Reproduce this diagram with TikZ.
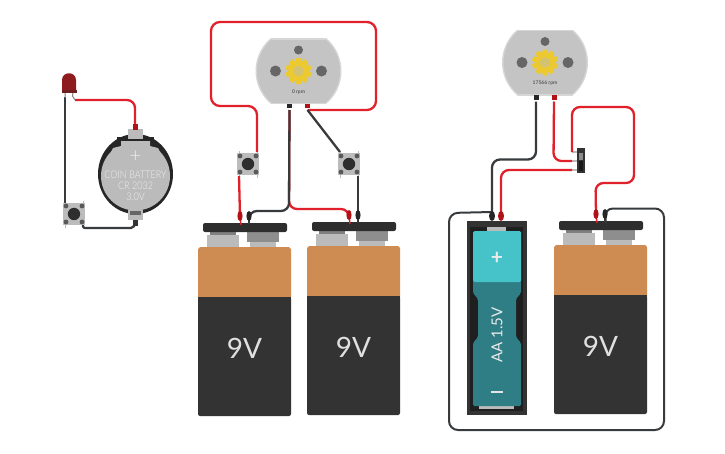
\documentclass[tikz,border=0pt]{standalone}
\usepackage{fontspec}
\setmainfont{Lato}[UprightFont=* Light,BoldFont=* Bold]
\newfontfamily\coinf{Lato}[UprightFont=* Light,FakeStretch=0.86]
\newfontfamily\regf{Lato}
\usetikzlibrary{calc}
\definecolor{wred}{HTML}{E0212B}
\definecolor{wblk}{HTML}{383B3D}
\definecolor{beadr}{HTML}{B01218}
\definecolor{orng}{HTML}{CF8C52}
\definecolor{drk}{HTML}{333333}
\definecolor{plate}{HTML}{2E2E2E}
\definecolor{lgrey}{HTML}{BBBBBB}
\definecolor{mgrey}{HTML}{8E8E8E}
\definecolor{motor}{HTML}{C4C4C4}
\definecolor{hole}{HTML}{666666}
\definecolor{gear}{HTML}{EBC92F}
\definecolor{gearin}{HTML}{D3C272}
\definecolor{tealA}{HTML}{46C3C8}
\definecolor{tealB}{HTML}{2F7E85}
\definecolor{btn}{HTML}{BCBCBC}
\definecolor{ledc}{HTML}{8E1B1E}
\definecolor{ledd}{HTML}{6E2020}
\tikzset{
  x=1pt,y=-1pt,
  redwire/.style={draw=wred,line width=2.3pt,rounded corners=8pt},
  blkwire/.style={draw=wblk,line width=2.3pt,rounded corners=8pt},
  label9/.style={text=white!88!black,font=\regf\fontsize{28}{28}\selectfont,inner sep=0pt},
  rpm/.style={text=black!65,font=\fontsize{5}{5}\selectfont\bfseries,inner sep=0pt},
  coin/.style={text=white!94!black,font=\coinf\fontsize{10.5}{11}\selectfont,inner sep=0pt,align=center},
  ninev/.pic={
    \fill[orng] (0,6) -- (0,2) -- (2,0) -- (91,0) -- (93,2) -- (93,51) -- (0,51) -- cycle;
    \fill[drk,rounded corners=2pt] (0,50) rectangle (93,169);
    \fill[drk] (0,50) rectangle (93,60);
    \fill[mgrey!90!black] (12,-15) rectangle (38,-12);
    \fill[lgrey] (9,-12) rectangle (41,0);
    \fill[mgrey] (49,-15) rectangle (81,-5);
    \fill[lgrey] (52,-5) rectangle (78,0);
    \fill[plate,rounded corners=2pt] (5,-24) rectangle (89,-15);
    \node[label9] (-txt) at (46.5,101) {9V};
    \coordinate (-r) at (42,-31);
    \coordinate (-b) at (51,-31);
  },
  button/.pic={
    \foreach \px/\py in {-9/-11,9/-11,-9/11,9/11} \draw[lgrey,line width=1pt] (\px,\py) -- ++(0,2.5) (\px,\py) -- ++(0,-2);
    \fill[btn] (-11,-11) rectangle (11,11);
    \foreach \px/\py in {-8/-8,8/-8,-8/8,8/8} \fill[black!65] (\px,\py) circle[radius=2.4pt];
    \fill[black!82] (0,0) circle[radius=6.2pt];
    \coordinate (-tl) at (-9,-12);
    \coordinate (-tr) at (9,-12);
    \coordinate (-bl) at (-9,12);
    \coordinate (-br) at (9,12);
  },
  motorpic/.pic={
    \begin{scope}
      \clip (-50,-32.5) rectangle (50,32.5);
      \fill[motor!70!white] (0,0) circle[radius=43pt];
    \end{scope}
    \begin{scope}
      \clip (-50,-31) rectangle (50,31);
      \fill[motor] (0,0) circle[radius=41.5pt];
    \end{scope}
    \fill[hole] (0,-21) circle[radius=4.5pt];
    \fill[hole] (-23,0) circle[radius=5.5pt];
    \fill[hole] (23,0) circle[radius=5.5pt];
    \foreach \a in {0,36,...,324} \fill[gear,rotate=\a] (-2.2,-13) -- (2.2,-13) -- (3.2,-8) -- (-3.2,-8) -- cycle;
    \fill[gear] (0,0) circle[radius=9.5pt];
    \fill[gearin] (0,0) circle[radius=5.3pt];
    \coordinate (-b) at (-9,39);
    \coordinate (-r) at (9,39);
    \fill[black!85] (-11.5,32.5) rectangle (-6.5,37);
    \fill[beadr] (6.5,32.5) rectangle (11.5,37);
  }
}
\begin{document}
\begin{tikzpicture}
\useasboundingbox (0,0) rectangle (725,453);
% ---------- coin battery group
\fill[black!85] (135.5,174) ellipse[x radius=37.5pt,y radius=40pt];
\fill[lgrey] (135.5,176) circle[radius=34.5pt];
\fill[black!85] (117,137) rectangle (154,147);
\fill[lgrey] (107,160) -- (113,148) -- (121,146) -- (121,141) -- (150,141) -- (150,146) -- (158,148) -- (164,160) -- cycle;
\fill[lgrey] (128,129) rectangle (143,139);
\fill[lgrey] (128,210) rectangle (143,220);
\fill[black!60] (130,211) rectangle (141,215);
\coordinate (coinT) at (135,126);
\coordinate (coinB) at (135,224);
\node[coin] (cointxt) at (135.5,186) {COIN BATTERY\\CR 2032\\3.0V};
\node[text=white!94!black,font=\fontsize{20}{20}\selectfont,inner sep=0pt] (coinplus) at (135.5,157) {+};
% LED
\coordinate (ledC) at (65,97);
\coordinate (ledA) at (75,100);
\pic (sw0) at (74,214) {button};
\draw[wblk,line width=2.3pt] (ledC) -- (65,203);
\draw[redwire] (ledA) -- (135,100) -- (coinT);
\draw[blkwire,rounded corners=2pt] (83,225) -- (83,228) -- (133,228) -- (coinB);
\fill[black!80] (133,220) rectangle (137.5,226);
\fill[beadr] (133,124) rectangle (137.5,130);
\draw[lgrey!70!black,line width=1pt] (73,92) -- (72.5,96) -- (75,100) (65,92) -- (65,98);
\fill[ledc] (62,90) -- (62,80) .. controls (62,71) and (76,71) .. (76,80) -- (76,90) -- cycle;
\fill[ledd] (61.5,90) rectangle (76.5,93);
% ---------- two 9V with motor
\pic (b1) at (198,247) {ninev};
\pic (b2) at (307,246) {ninev};
\pic (m1) at (298.5,71) {motorpic};
\node[rpm] (m1t) at (298.5,92) {0 rpm};
\pic (s1) at (248,164) {button};
\pic (s2) at (349,164) {button};
% red wires
\draw[redwire,rounded corners=9pt] (m1-r) -- (376,110) -- (376,22) -- (211,22) -- (211,106) -- (257,106) -- (s1-tr);
\draw[redwire,rounded corners=2pt] (s1-bl) -- (b1-r);
\draw[redwire] (m1-b) -- (289,209) -- (b2-r |- 0,209) -- (b2-r);
\draw[redwire,line width=1.4pt] (b1-r) -- ++(1,9);
\draw[redwire,line width=1.4pt] (b2-r) -- ++(1,9);
% black wires
\draw[blkwire] (m1-r) -- (s2-tl);
\draw[blkwire,rounded corners=2pt] (s2-br) -- (b2-b);
\draw[blkwire] (m1-b) -- (289,211) -- (b1-b |- 0,211) -- (b1-b);
\draw[blkwire,line width=1.4pt] (b1-b) -- ++(0,8);
\draw[blkwire,line width=1.4pt] (b2-b) -- ++(0,8);
\foreach \c in {b1,b2}{
  \fill[beadr] ($(\c-r)+(0,0)$) ellipse[x radius=2.6pt,y radius=5pt];
  \fill[black!85] ($(\c-b)+(0,0)$) ellipse[x radius=2.6pt,y radius=5pt];
}
% ---------- right group
\pic (m2) at (545,62.5) {motorpic};
\node[rpm] (m2t) at (545,83.5) {17566 rpm};
\pic (b3) at (554,245) {ninev};
% AA holder
\fill[drk] (467,221) rectangle (527,415);
\fill[black!88] (470,227) rectangle (523,411);
\fill[lgrey] (487,227) rectangle (506,232);
\fill[lgrey] (479,405) rectangle (514,409);
\fill[tealB,rounded corners=1.5pt] (473,240) -- (473,293) -- (478,299) -- (478,337) -- (473,343) -- (473,406) -- (521,406) -- (521,343) -- (516,337) -- (516,299) -- (521,293) -- (521,240) -- cycle;
\fill[tealA,rounded corners=1.5pt] (473,282) -- (473,231) -- (521,231) -- (521,282) -- cycle;
\node[text=white!92!black,font=\fontsize{21}{21}\selectfont\bfseries,inner sep=0pt] (aaplus) at (497,258) {+};
\fill[white!90!black] (491,390.5) rectangle (503,393);
\node[text=white!92!black,font=\regf\fontsize{15}{15}\selectfont,inner sep=0pt,rotate=90] (aatxt) at (497,335) {AA 1.5V};
\coordinate (aaB) at (492,212);
\coordinate (aaR) at (501,212);
% switch
\fill[drk] (577,148) rectangle (585,173);
\fill[black!90] (579,161) rectangle (583,171);
\fill[black!45] (579,153) rectangle (583,160);
\coordinate (swA) at (572,152);
\coordinate (swB) at (572,161);
\coordinate (swC) at (572,170);
\draw[lgrey,line width=1.2pt] (swA) -- (577,152) (swB) -- (577,161) (swC) -- (577,170);
% wires
\draw[blkwire] (m2-b) -- (536,159.5) -- (492,159.5) -- (aaB);
\draw[redwire] (aaR) -- (501,170) -- (swC);
\draw[redwire] (m2-r) -- (553.5,161) -- (swB);
\draw[redwire] (swA) -- (572,107) -- (634,107) -- (634,183) -- (595.5,183) -- (b3-r);
\draw[blkwire,line width=2pt,rounded corners=9pt] (b3-b) -- (604,208.5) -- (664,208.5) -- (664,430) -- (449,430) -- (449,213) -- (aaB);
\draw[redwire,line width=1.4pt] (b3-r) -- ++(1,9);
\draw[blkwire,line width=1.4pt] (b3-b) -- ++(0,8);
\fill[beadr] (b3-r) ellipse[x radius=2.6pt,y radius=5pt];
\fill[black!85] (b3-b) ellipse[x radius=2.6pt,y radius=5pt];
\fill[black!85] ($(aaB)+(0,4)$) ellipse[x radius=3pt,y radius=5pt];
\fill[beadr] ($(aaR)+(0,4)$) ellipse[x radius=3pt,y radius=5pt];
\end{tikzpicture}
\end{document}
